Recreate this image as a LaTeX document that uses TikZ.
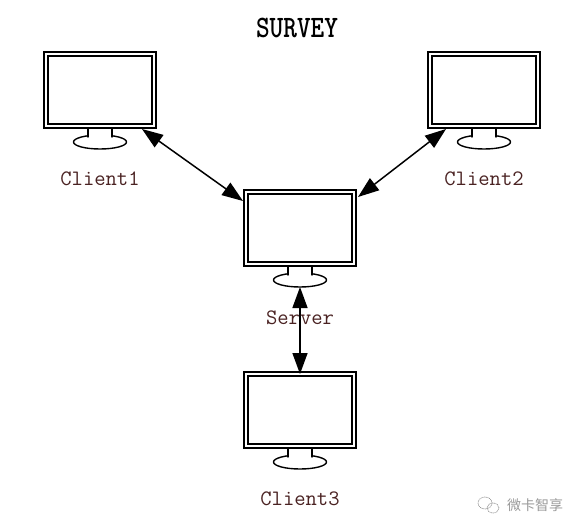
\documentclass[tikz,border=0pt]{standalone}
\usepackage{fontspec}
\newfontfamily\cjk{Noto Sans CJK SC}
\usetikzlibrary{arrows.meta,shapes.geometric}
\definecolor{labelbrown}{HTML}{4A2222}
\definecolor{markgray}{HTML}{9A9A9A}
\tikzset{
    screen/.style={draw, double, line width=1.6pt, double distance=2.8pt, line join=miter, fill=white, minimum width=108pt, minimum height=72pt, inner sep=0pt, outer sep=0pt},
    base/.style={draw, ellipse, line width=1.4pt, minimum width=53pt, minimum height=14pt, inner sep=0pt, outer sep=0pt},
    neck/.style={draw, line width=1.4pt, fill=white},
    link/.style={line width=1.5pt, {Triangle[length=21pt,width=15pt]}-{Triangle[length=21pt,width=15pt]}},
    hostlabel/.style={text=labelbrown, font=\ttfamily\fontsize{22}{22}\selectfont},
    titlelabel/.style={font=\ttfamily\bfseries\fontsize{26}{26}\selectfont, yscale=1.2, transform shape},
    bubble/.style={draw=markgray, line width=.7pt, densely dotted, ellipse, inner sep=0pt},
    marktext/.style={text=markgray, font=\cjk\fontsize{14}{14}\selectfont}
}
\begin{document}
\begin{tikzpicture}[x=1pt, y=-1pt, line cap=round, line join=round]
    \useasboundingbox (0,0) rectangle (581,530);
    \foreach \name/\x/\y in {client1/100/90, client2/484/90, server/300/228, client3/300/410} {
        \node[base] (\name-base) at (\x,\y+52) {};
        \draw[neck] (\x-12,\y+47) -- (\x-12,\y+36) -- (\x+12,\y+36) -- (\x+12,\y+47);
        \node[screen] (\name) at (\x,\y) {};
    }
    \draw[link] ([xshift=-12pt,yshift=-3pt]client1.south east) -- ([xshift=-3pt,yshift=-9pt]server.north west);
    \draw[link] ([xshift=16pt,yshift=-3pt]client2.south west) -- ([xshift=4pt,yshift=-5pt]server.north east);
    \draw[link] (server-base.south) -- (client3.north);
    \foreach \name/\x/\y/\txt in {client1/100/179/Client1, client2/484/179/Client2, server/300/318/Server, client3/300/499/Client3} {
        \node[hostlabel] (\name-label) at (\x,\y) {\txt};
    }
    \node[titlelabel] (title) at (297,28) {SURVEY};
    % watermark
    \node[bubble, minimum width=14pt, minimum height=12pt] (bubblea) at (485,503) {};
    \node[bubble, minimum width=12pt, minimum height=10pt] (bubbleb) at (493,508) {};
    \node[marktext] (mark) at (535,505) {微卡智享};
\end{tikzpicture}
\end{document}
